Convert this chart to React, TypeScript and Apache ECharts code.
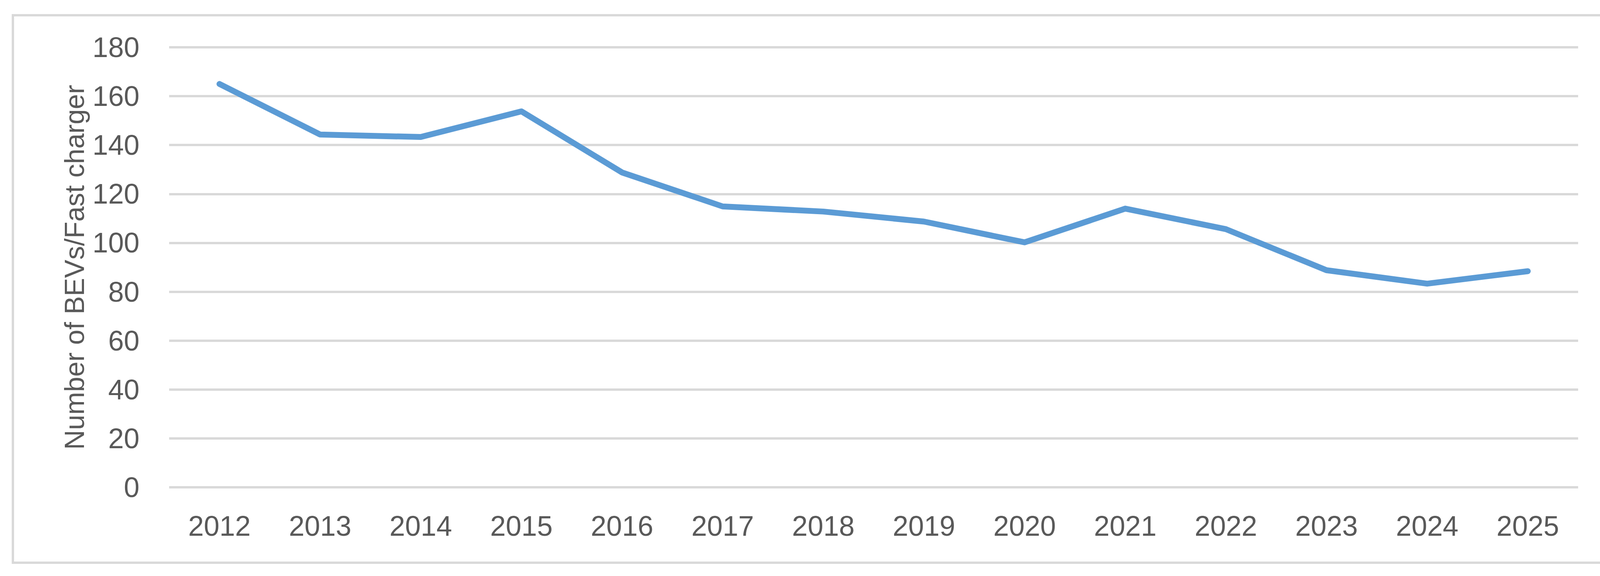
import { useEffect, useRef } from 'react';
import * as echarts from 'echarts';

const years = ['2012', '2013', '2014', '2015', '2016', '2017', '2018', '2019', '2020', '2021', '2022', '2023', '2024', '2025'];
const bevsPerCharger = [165, 144.3, 143.3, 153.8, 128.8, 114.9, 112.8, 108.7, 100.2, 114, 105.6, 88.8, 83.3, 88.4];
const yTicks = { min: 0, max: 180, interval: 20 };
const yTitle = 'Number of BEVs/Fast charger';

const TEXT = '#595959';
const GRID = '#d9d9d9';
const LINE = '#5b9bd5';
const FONT = '"Liberation Sans", Arial, sans-serif';

export default function App() {
  const chartRef = useRef<HTMLDivElement>(null);

  useEffect(() => {
    document.body.style.margin = '0';
    if (!chartRef.current) return;
    const chart = echarts.init(chartRef.current, undefined, { renderer: 'svg' });

    chart.setOption({
      animation: false,
      backgroundColor: '#ffffff',
      textStyle: { fontFamily: FONT },
      graphic: [
        {
          // chart area frame
          type: 'rect',
          shape: { x: 33, y: 39, width: 4083, height: 1401 },
          style: { fill: 'none', stroke: GRID, lineWidth: 6 },
          silent: true,
        },
      ],
      grid: { left: 433, right: 109, top: 121, bottom: 227, containLabel: false },
      xAxis: {
        type: 'category',
        data: years,
        boundaryGap: true,
        axisLine: { show: false },
        axisTick: { show: false },
        splitLine: { show: false },
        axisLabel: { color: TEXT, fontSize: 72, fontFamily: FONT, margin: 63 },
      },
      yAxis: {
        type: 'value',
        min: yTicks.min,
        max: yTicks.max,
        interval: yTicks.interval,
        name: yTitle,
        nameLocation: 'middle',
        nameGap: 171,
        nameTextStyle: { color: TEXT, fontSize: 70, fontFamily: FONT },
        axisLine: { show: false },
        axisTick: { show: false },
        axisLabel: { color: TEXT, fontSize: 72, fontFamily: FONT, margin: 76 },
        splitLine: { lineStyle: { color: GRID, width: 6 } },
      },
      series: [
        {
          type: 'line',
          data: bevsPerCharger,
          showSymbol: false,
          symbol: 'none',
          lineStyle: { color: LINE, width: 15, cap: 'round', join: 'round' },
        },
      ],
    });

    return () => {
      chart.dispose();
    };
  }, []);

  return <div ref={chartRef} style={{ width: 4149, height: 1474 }} />;
}
